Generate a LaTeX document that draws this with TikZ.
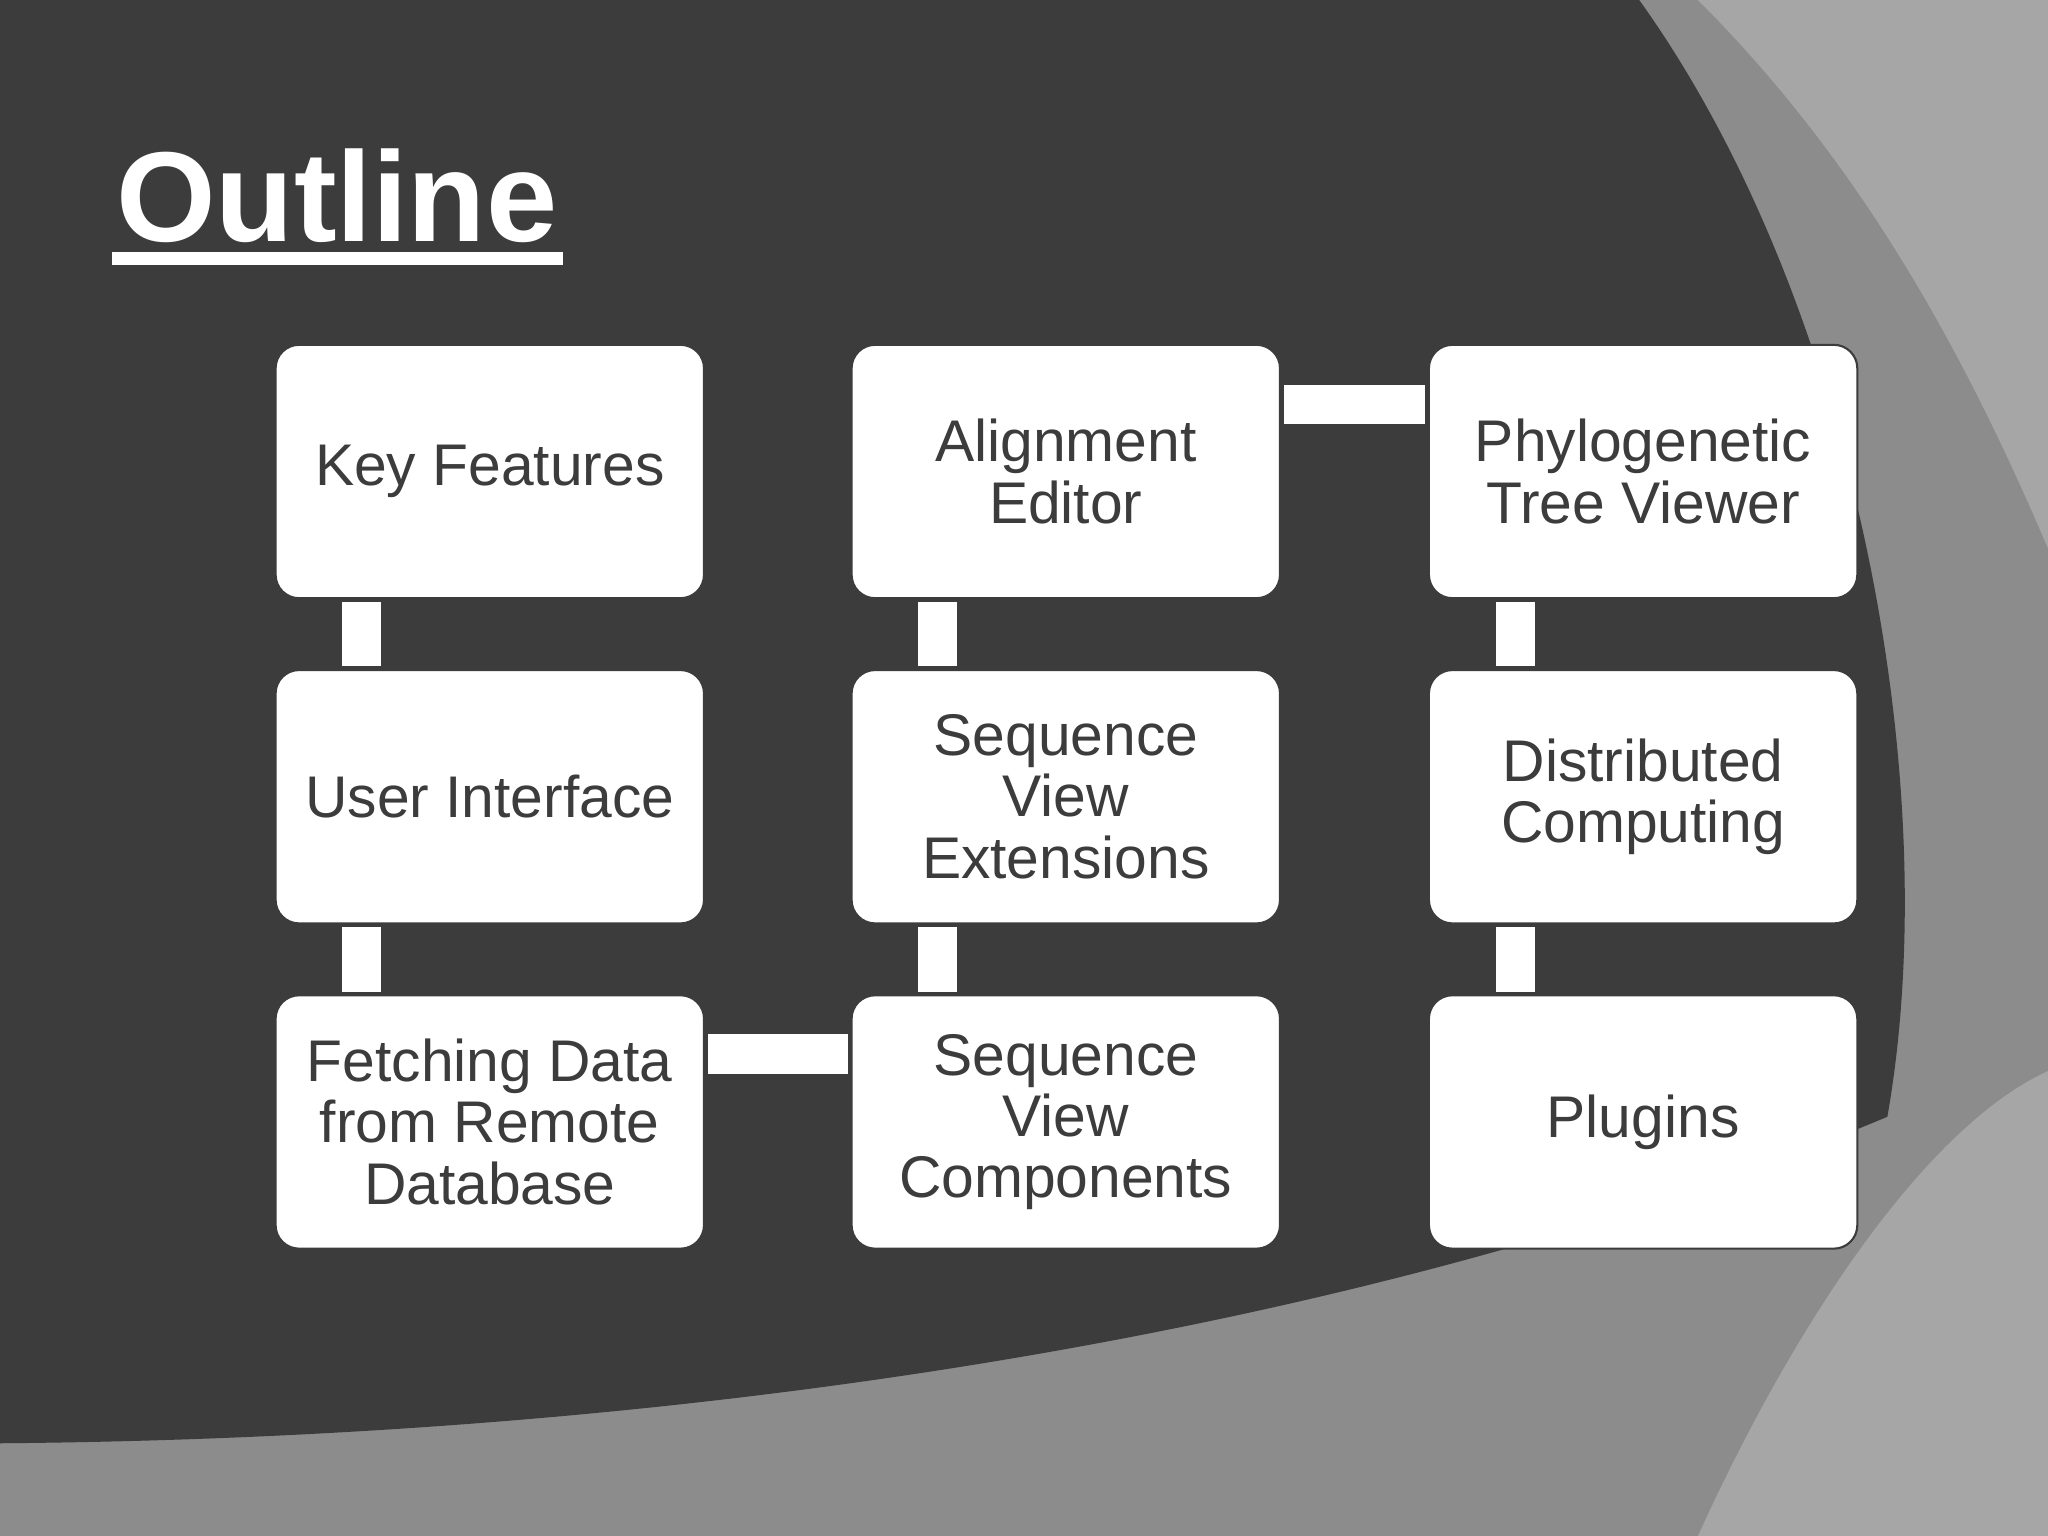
\documentclass[tikz,border=0pt]{standalone}
\usepackage{fontspec}
\setmainfont{Liberation Sans}
\usetikzlibrary{positioning}
\definecolor{slate}{HTML}{3C3C3C}
\definecolor{midgray}{HTML}{8C8C8C}
\definecolor{lightgray}{HTML}{A6A6A6}
\tikzset{
  topic/.style={rectangle, rounded corners=9pt, fill=white, draw=slate, line width=0.8pt,
    minimum width=164pt, minimum height=97pt, align=center, text=slate,
    font=\fontsize{22.5}{23.5}\selectfont},
  bar/.style={white, line width=15pt}
}
\begin{document}
\begin{tikzpicture}[x=0.5pt,y=-0.5pt]
\useasboundingbox (0,0) rectangle (1568,1176);
% background
\fill[lightgray] (0,0) rectangle (1568,1176);
\fill[midgray] (1255,0) -- (1568,0) -- (1568,1176) -- (0,1176) -- (0,1105) -- cycle;
\fill[lightgray] (1300,0) .. controls (1420,120) and (1500,260) .. (1568,420) -- (1568,0) -- cycle;
\fill[lightgray] (1568,820) .. controls (1480,860) and (1380,1000) .. (1300,1176) -- (1568,1176) -- cycle;
\fill[slate] (0,0) -- (1255,0) .. controls (1420,230) and (1490,600) .. (1445,855)
  .. controls (1100,1000) and (600,1100) .. (0,1105) -- cycle;
% title
\node[anchor=west, text=white, font=\fontsize{49}{54}\selectfont\bfseries] (title) at (82,150) {Outline};
\draw[white, line width=5pt] (86,198) -- (431,198);
% boxes
\node[topic] (key) at (375,361) {Key Features};
\node[topic] (ui) at (375,610) {User Interface};
\node[topic] (fetch) at (375,859) {Fetching Data\\from Remote\\Database};
\node[topic] (align) at (816,361) {Alignment\\Editor};
\node[topic] (seqext) at (816,610) {Sequence\\View\\Extensions};
\node[topic] (seqcomp) at (816,859) {Sequence\\View\\Components};
\node[topic] (phylo) at (1258,361) {Phylogenetic\\Tree Viewer};
\node[topic] (dist) at (1258,610) {Distributed\\Computing};
\node[topic] (plug) at (1258,859) {Plugins};
% connectors
\draw[bar] ([xshift=-49pt,yshift=-1pt]key.south) -- ([xshift=-49pt,yshift=1pt]ui.north);
\draw[bar] ([xshift=-49pt,yshift=-1pt]ui.south) -- ([xshift=-49pt,yshift=1pt]fetch.north);
\draw[bar] ([xshift=-49pt,yshift=-1pt]align.south) -- ([xshift=-49pt,yshift=1pt]seqext.north);
\draw[bar] ([xshift=-49pt,yshift=-1pt]seqext.south) -- ([xshift=-49pt,yshift=1pt]seqcomp.north);
\draw[bar] ([xshift=-49pt,yshift=-1pt]phylo.south) -- ([xshift=-49pt,yshift=1pt]dist.north);
\draw[bar] ([xshift=-49pt,yshift=-1pt]dist.south) -- ([xshift=-49pt,yshift=1pt]plug.north);
\draw[bar] ([xshift=1pt,yshift=25.5pt]align.east) -- ([xshift=-1pt,yshift=25.5pt]phylo.west);
\draw[bar] ([xshift=1pt,yshift=26pt]fetch.east) -- ([xshift=-1pt,yshift=26pt]seqcomp.west);
\end{tikzpicture}
\end{document}
